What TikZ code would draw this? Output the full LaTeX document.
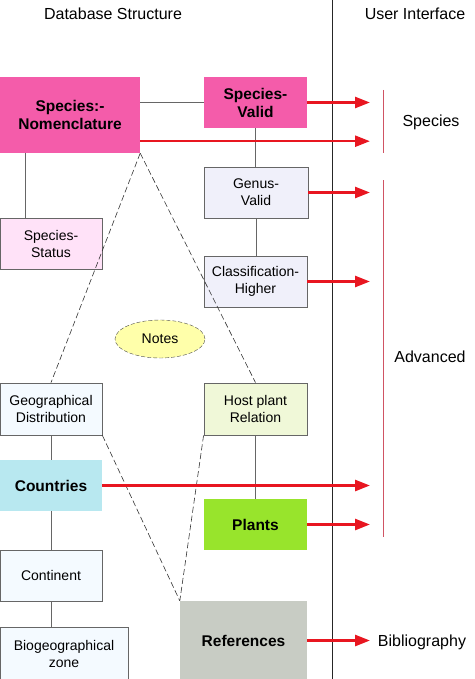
\documentclass[tikz,border=0pt]{standalone}
\usepackage{fontspec}
\setmainfont{Liberation Sans}
\usetikzlibrary{arrows.meta,shapes.geometric}
\definecolor{pinkbox}{RGB}{244,92,170}
\definecolor{lavbox}{RGB}{240,240,250}
\definecolor{statbox}{RGB}{255,226,248}
\definecolor{geobox}{RGB}{244,250,255}
\definecolor{hostbox}{RGB}{240,248,216}
\definecolor{ctybox}{RGB}{184,232,240}
\definecolor{plantbox}{RGB}{152,228,44}
\definecolor{refbox}{RGB}{200,204,196}
\definecolor{notebox}{RGB}{255,255,170}
\definecolor{uired}{RGB}{232,22,32}
\definecolor{brkred}{RGB}{208,84,100}
\begin{document}
\begin{tikzpicture}[x=1pt,y=-1pt,
    box/.style={draw=black!60,line width=0.8pt,rectangle,inner sep=2pt,align=center,
      font=\fontsize{14}{17}\selectfont},
    mainbox/.style={rectangle,inner sep=2pt,align=center,
      font=\fontsize{15.5}{18}\selectfont\bfseries},
    link/.style={draw=black!60,line width=0.8pt},
    ref/.style={draw=black!80,line width=0.6pt,dash pattern=on 6pt off 3pt},
    toui/.style={draw=uired,line width=2.6pt,-{Triangle[length=15pt,width=11pt]}},
    label/.style={font=\fontsize{16}{19}\selectfont}]
  \useasboundingbox (0,0) rectangle (474,679);
  \draw
    (70,115) node[mainbox,fill=pinkbox,minimum width=140pt,minimum height=76pt] (nom){Species:-\\Nomenclature}
    (255.5,102.5) node[mainbox,fill=pinkbox,minimum width=103pt,minimum height=51pt] (sv){Species-\\Valid}
    (256,192.5) node[box,fill=lavbox,minimum width=104pt,minimum height=51pt] (gv){Genus-\\Valid}
    (51,243.5) node[box,fill=statbox,minimum width=102pt,minimum height=51pt] (stat){Species-\\Status}
    (255.5,281.5) node[box,fill=lavbox,minimum width=103pt,minimum height=51pt] (ch){Classification-\\Higher}
    (160,339) node[ellipse,draw=black!70,dash pattern=on 4pt off 2pt,fill=notebox,minimum width=90pt,minimum height=38pt,
      font=\fontsize{14}{17}\selectfont] (notes){Notes}
    (51,409) node[box,fill=geobox,minimum width=102pt,minimum height=52pt] (geo){Geographical\\Distribution}
    (255.5,409) node[box,fill=hostbox,minimum width=103pt,minimum height=52pt] (host){Host plant\\Relation}
    (51,485.5) node[mainbox,fill=ctybox,minimum width=102pt,minimum height=51pt] (cty){Countries}
    (255.5,524.5) node[mainbox,fill=plantbox,minimum width=103pt,minimum height=51pt] (plants){Plants}
    (51,575.5) node[box,fill=geobox,minimum width=102pt,minimum height=51pt] (cont){Continent}
    (64,654) node[box,fill=geobox,minimum width=128pt,minimum height=54pt] (bio){Biogeographical\\zone}
    (243.5,640.5) node[mainbox,fill=refbox,minimum width=127pt,minimum height=79pt] (refs){References};
  \draw
    (113,14) node[label] (dbs){Database Structure}
    (415,14) node[label] (uif){User Interface}
    (431,122) node[label] (spc){Species}
    (430,357) node[label] (adv){Advanced}
    (422,642) node[label] (bib){Bibliography};
  \coordinate (sep top) at (332,0);
  \coordinate (sep bot) at (332,679);
  \coordinate (uiend) at (370,0);
  \coordinate (spc top) at (383,90);
  \coordinate (spc bot) at (383,153);
  \coordinate (adv top) at (383,180);
  \coordinate (adv bot) at (383,537);
  \draw[draw=black!85,line width=0.8pt] (sep top) to (sep bot);
  \begin{scope}[link]
    \draw (sv.west) to (sv.west -| nom.east);
    \draw ([xshift=26pt]nom.south west) to ([xshift=26pt]nom.south west |- stat.north);
    \draw (sv.south) to (sv.south |- gv.north);
    \draw (gv.south) to (gv.south |- ch.north);
    \draw (geo.south) to (cty.north);
    \draw (cty.south) to (cont.north);
    \draw (cont.south) to (cont.south |- bio.north);
    \draw (host.south) to (host.south |- plants.north);
  \end{scope}
  \begin{scope}[ref]
    \draw (nom.south east) to (geo.north);
    \draw (nom.south east) to (host.north);
    \draw (geo.south east) to (refs.north west);
    \draw (host.south west) to (refs.north west);
  \end{scope}
  \begin{scope}[toui]
    \draw (sv.east) to (sv.east -| uiend);
    \draw ([yshift=12pt]nom.south east) to ([yshift=12pt]nom.south east -| uiend);
    \draw (gv.east) to (gv.east -| uiend);
    \draw (ch.east) to (ch.east -| uiend);
    \draw (cty.east) to (cty.east -| uiend);
    \draw (plants.east) to (plants.east -| uiend);
    \draw (refs.east) to (refs.east -| uiend);
  \end{scope}
  \begin{scope}[draw=brkred,line width=1pt]
    \draw (spc top) to (spc bot);
    \draw (adv top) to (adv bot);
  \end{scope}
\end{tikzpicture}
\end{document}
